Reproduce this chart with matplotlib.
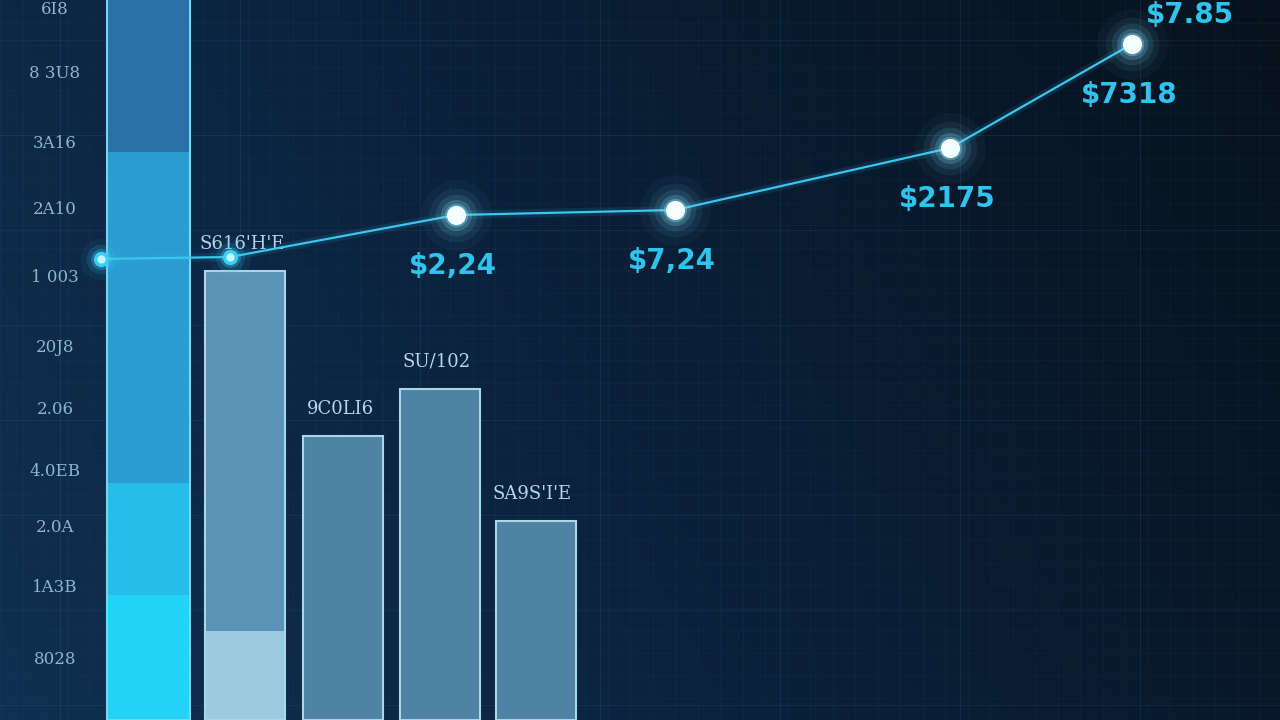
import numpy as np
import matplotlib
matplotlib.use("Agg")
import matplotlib.pyplot as plt
from matplotlib.colors import LinearSegmentedColormap

# y tick labels (left column) and their positions
ytick_pos = [711, 647, 577, 510, 443, 372, 310, 248, 192, 133, 60]
ytick_labels = ["6I8", "8 3U8", "3A16", "2A10", "1 003", "20J8",
                "2.06", "4.0EB", "2.0A", "1A3B", "8028"]

# tall stacked bar on the left
big_x = 148.5
big_segments = [125, 112, 331, 172]
big_colors = ["#22d3f6", "#27bdea", "#2a9ccf", "#2a71a5"]

# other bars
bar_x = [245, 343, 440, 535.5]
bar_h = [449, 284, 331, 199]
bar_labels = ["S616'H'E", "9C0LI6", "SU/102", "SA9S'I'E"]
bar2_low = 89

# line series
line_x = [101, 230, 456, 675, 950, 1132]
line_y = [461, 463, 505, 510, 572, 676]
point_labels = ["", "", "$2,24", "$7,24", "$2175", "$7318"]
top_label = "$7.85"

fig = plt.figure(figsize=(12.8, 7.2), dpi=100)
ax = fig.add_axes([0, 0, 1, 1])
ax.set_xlim(0, 1280)
ax.set_ylim(0, 720)
ax.axis("off")

# background gradient
cmap = LinearSegmentedColormap.from_list("bg", ["#0f3050", "#0c2542", "#091b2f", "#07121d"])
gx = np.linspace(0, 1, 256)
gy = np.linspace(0, 1, 144)
GX, GY = np.meshgrid(gx, gy)
grad = 0.8 * GX + 0.25 * (1 - GY)
ax.imshow(grad, extent=[0, 1280, 0, 720], origin="upper", cmap=cmap,
          aspect="auto", zorder=0, vmin=0, vmax=1.05)

# grid
for gxv in np.arange(0, 1280, 22.5):
    ax.axvline(gxv, color="#3a6a90", lw=0.5, alpha=0.1, zorder=1)
for gyv in np.arange(0, 720, 22.5):
    ax.axhline(gyv, color="#3a6a90", lw=0.5, alpha=0.1, zorder=1)
for gxv in np.arange(60, 1280, 180):
    ax.axvline(gxv, color="#4a7ea5", lw=0.8, alpha=0.16, zorder=1)
for gyv in np.arange(15, 720, 95):
    ax.axhline(gyv, color="#4a7ea5", lw=0.8, alpha=0.13, zorder=1)

# y labels
for p, t in zip(ytick_pos, ytick_labels):
    ax.text(55, p, t, color="#8db6cf", fontsize=12, ha="center", va="center",
            family="DejaVu Serif", zorder=3)

# big stacked bar
bottom = 0
for h, c in zip(big_segments, big_colors):
    ax.bar(big_x, h, width=83, bottom=bottom, color=c, zorder=3, linewidth=0)
    bottom += h
ax.bar(big_x, sum(big_segments), width=83, fill=False, edgecolor="#6fd8f5",
       linewidth=1.5, zorder=4)

# other bars
ax.bar(bar_x[0], bar2_low, width=80, color="#9ccbe0", zorder=3, linewidth=0)
ax.bar(bar_x[0], bar_h[0] - bar2_low, bottom=bar2_low, width=80, color="#5b93b6",
       zorder=3, linewidth=0)
ax.bar(bar_x[0], bar_h[0], width=80, fill=False, edgecolor="#a9d6ea", linewidth=1.5, zorder=4)
for x, h in zip(bar_x[1:], bar_h[1:]):
    ax.bar(x, h, width=80, color="#4f83a3", edgecolor="#a9d6ea", linewidth=1.5, zorder=3)
for x, h, t in zip(bar_x, bar_h, bar_labels):
    ax.text(x - 3, h + 27, t, color="#b4d6e8", fontsize=13, ha="center", va="center",
            family="DejaVu Serif", zorder=5)

# line with glow
ax.plot(line_x, line_y, color="#2ab8e6", lw=6, alpha=0.12, zorder=5)
ax.plot(line_x, line_y, color="#3cc6ee", lw=1.6, zorder=6)
for s, a in [(2600, 0.04), (1500, 0.07), (900, 0.12), (500, 0.22), (280, 0.4)]:
    ax.scatter(line_x[2:], line_y[2:], s=s, color="#7fdcf7", alpha=a, linewidths=0, zorder=7)
for s, a in [(900, 0.06), (450, 0.14), (220, 0.3)]:
    ax.scatter(line_x[:2], line_y[:2], s=s, color="#40cdf5", alpha=a, linewidths=0, zorder=7)
ax.scatter(line_x[2:], line_y[2:], s=190, color="#f4feff", linewidths=0, zorder=8)
ax.scatter(line_x[:2], line_y[:2], s=120, color="#39d0f5", linewidths=0, zorder=8)
ax.scatter(line_x[:2], line_y[:2], s=35, color="#c8f4ff", linewidths=0, zorder=8)

for x, y, t in zip(line_x, line_y, point_labels):
    if t:
        ax.text(x - 3, y - 51, t, color="#2fc4ee", fontsize=20, fontweight="bold",
                ha="center", va="center", zorder=9)
ax.text(line_x[-1] + 58, 719, top_label, color="#2fc4ee", fontsize=20,
        fontweight="bold", ha="center", va="top", zorder=9)

fig.savefig("out.png", dpi=100)
